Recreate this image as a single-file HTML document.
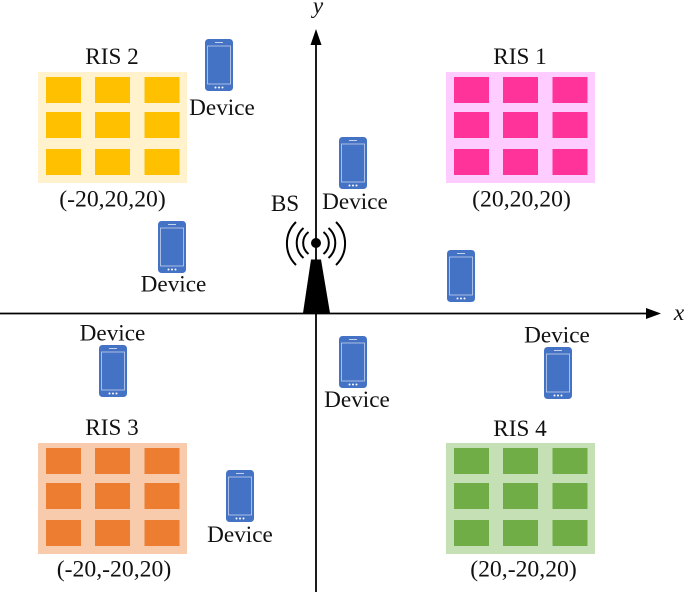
<!DOCTYPE html>
<html>
<head>
<meta charset="utf-8">
<style>
html,body{margin:0;padding:0;background:#fff;width:685px;height:592px;overflow:hidden}
svg{display:block}
text{font-family:"Liberation Serif",serif;font-size:23.2px;fill:#111;text-anchor:middle}
text.c{font-size:23.7px}
</style>
</head>
<body>
<svg width="685" height="592" viewBox="0 0 685 592" xmlns="http://www.w3.org/2000/svg">
<defs>
<symbol id="phone" width="28" height="52" viewBox="0 0 28 52">
<rect x="0" y="0" width="28" height="52" rx="3.5" fill="#4472c4"/>
<rect x="2.500" y="7" width="23" height="38" fill="none" stroke="#c5d2ec" stroke-width="0.8"/>
<rect x="10" y="3" width="8" height="1" fill="#c5d2ec"/>
<circle cx="10.500" cy="48.500" r="1" fill="#fff"/>
<circle cx="14" cy="48.500" r="1" fill="#fff"/>
<circle cx="17.500" cy="48.500" r="1" fill="#fff"/>
</symbol>
<g id="cells">
<rect x="8" y="5" width="35" height="26"/><rect x="57" y="5" width="35" height="26"/><rect x="106.500" y="5" width="35" height="26"/>
<rect x="8" y="40" width="35" height="26"/><rect x="57" y="40" width="35" height="26"/><rect x="106.500" y="40" width="35" height="26"/>
<rect x="8" y="77" width="35" height="26"/><rect x="57" y="77" width="35" height="26"/><rect x="106.500" y="77" width="35" height="26"/>
</g>
</defs>

<rect x="38" y="72" width="149" height="111" fill="#fff2cc"/>
<use href="#cells" x="38" y="72" fill="#ffc000"/>
<rect x="446" y="72" width="149" height="111" fill="#ffccff"/>
<use href="#cells" x="446" y="72" fill="#ff3399"/>
<rect x="38" y="443" width="149" height="111" fill="#f8cbad"/>
<use href="#cells" x="38" y="443" fill="#ed7d31"/>
<rect x="446" y="443" width="149" height="111" fill="#c5e0b4"/>
<use href="#cells" x="446" y="443" fill="#70ad47"/>

<line x1="0" y1="313.500" x2="650" y2="313.500" stroke="#000" stroke-width="1.800"/>
<polygon points="646,308 661,313.500 646,319" fill="#000"/>
<line x1="316" y1="42" x2="316" y2="592" stroke="#000" stroke-width="1.800"/>
<polygon points="310.500,45 316,29 321.500,45" fill="#000"/>

<polygon points="311,259.500 321,259.500 330,313 303,313" fill="#000"/>
<circle cx="316" cy="243" r="5" fill="#000"/>
<g fill="none" stroke="#000" stroke-width="2">
<path d="M308.500,232 A14,14 0 0 0 308.500,254"/>
<path d="M323.500,232 A14,14 0 0 1 323.500,254"/>
<path d="M303.500,228 A20,20 0 0 0 303.500,258"/>
<path d="M328.500,228 A20,20 0 0 1 328.500,258"/>
<path d="M296,222 A30,30 0 0 0 296,265"/>
<path d="M336,222 A30,30 0 0 1 336,265"/>
</g>

<use href="#phone" x="205" y="39"/>
<use href="#phone" x="339" y="137"/>
<use href="#phone" x="158" y="221"/>
<use href="#phone" x="447" y="250"/>
<use href="#phone" x="99" y="345"/>
<use href="#phone" x="339" y="336"/>
<use href="#phone" x="544" y="347"/>
<use href="#phone" x="226" y="470"/>

<text x="112" y="64">RIS 2</text>
<text x="520" y="64">RIS 1</text>
<text x="112" y="435">RIS 3</text>
<text x="520" y="436">RIS 4</text>
<text class="c" x="112.500" y="206.500">(-20,20,20)</text>
<text class="c" x="521.500" y="206.500">(20,20,20)</text>
<text class="c" x="114" y="576.500">(-20,-20,20)</text>
<text class="c" x="523.500" y="576.500">(20,-20,20)</text>
<text x="222" y="115">Device</text>
<text x="355" y="209">Device</text>
<text x="173.500" y="291.500">Device</text>
<text x="112.500" y="340.500">Device</text>
<text x="557" y="342.500">Device</text>
<text x="357" y="407">Device</text>
<text x="240" y="542">Device</text>
<text x="285" y="211">BS</text>
<text x="318" y="13" font-style="italic">y</text>
<text x="679" y="320" font-style="italic">x</text>
</svg>
</body>
</html>
